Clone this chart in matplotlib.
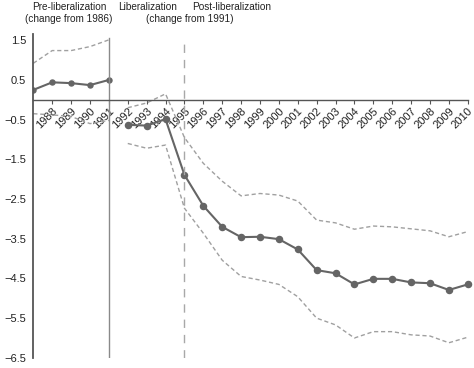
import matplotlib
matplotlib.use("Agg")
import matplotlib.pyplot as plt

plt.rcParams['font.family'] = ['Liberation Sans', 'DejaVu Sans']

years_pre = [1987, 1988, 1989, 1990, 1991]
pre_est = [0.25, 0.44, 0.42, 0.37, 0.50]
pre_upper = [0.92, 1.24, 1.24, 1.34, 1.51]
pre_lower = [-0.35, -0.38, -0.42, -0.60, -0.52]

years_post = list(range(1992, 2011))
post_est = [-0.63, -0.65, -0.49, -1.89, -2.67, -3.20, -3.46, -3.45, -3.51, -3.77,
            -4.29, -4.37, -4.65, -4.51, -4.51, -4.60, -4.62, -4.79, -4.65]
post_upper = [-0.20, -0.08, 0.15, -0.95, -1.60, -2.05, -2.42, -2.36, -2.40, -2.55,
              -3.03, -3.10, -3.26, -3.18, -3.20, -3.25, -3.30, -3.45, -3.32]
post_lower = [-1.10, -1.22, -1.14, -2.73, -3.36, -4.04, -4.45, -4.54, -4.65, -4.96,
              -5.50, -5.67, -6.00, -5.84, -5.84, -5.92, -5.95, -6.12, -5.98]

tick_years = list(range(1988, 2011))
ytick_vals = [1.5, 0.5, -0.5, -1.5, -2.5, -3.5, -4.5, -5.5, -6.5]

W, H = 474, 368
fig = plt.figure(figsize=(W / 100, H / 100), dpi=100)
x0px, xpx_per = 33.3, 18.89
y0px, ypx_per = 99.8, 39.7
xmin, xmax = 1987, 2010.3
ymin, ymax = -6.5, 1.65
left = x0px / W
width = (xmax - xmin) * xpx_per / W
top_px = y0px - ymax * ypx_per
bot_px = y0px - ymin * ypx_per
ax = fig.add_axes([left, 1 - bot_px / H, width, (bot_px - top_px) / H])
ax.set_xlim(xmin, xmax)
ax.set_ylim(ymin, ymax)

band_kw = dict(color='#a0a0a0', lw=1.0, ls=(0, (3, 2)))
main_kw = dict(color='#656565', lw=1.5, marker='o')

ax.plot(years_pre, pre_upper, **band_kw)
ax.plot(years_pre, pre_lower, **band_kw)
ax.plot(years_post, post_upper, **band_kw)
ax.plot(years_post, post_lower, **band_kw)
ax.plot(years_pre, pre_est, markersize=3.6, **main_kw)
ax.plot(years_post, post_est, markersize=4.4, **main_kw)

ax.plot([1991, 1991], [-6.5, 1.55], color='#8a8a8a', lw=1.0)
ax.plot([1995, 1995], [-6.5, 1.46], color='#a8a8a8', lw=1.0, ls=(0, (6, 5)))

for s in ['top', 'right']:
    ax.spines[s].set_visible(False)
ax.spines['left'].set_color('#555555')
ax.spines['left'].set_linewidth(1.3)
ax.spines['bottom'].set_position(('data', 0))
ax.spines['bottom'].set_bounds(1987, 2010)
ax.spines['bottom'].set_color('#555555')
ax.spines['bottom'].set_linewidth(1.0)

ax.set_yticks(ytick_vals)
ax.set_yticklabels([f"{v:.1f}".replace('-', '\u2212') for v in ytick_vals])
ax.tick_params(axis='y', length=0, pad=5, labelsize=8, colors='#222222')

ax.set_xticks(tick_years)
ax.set_xticklabels([str(y) for y in tick_years], rotation=45, ha='right',
                   rotation_mode='anchor')
ax.tick_params(axis='x', length=3, width=0.8, color='#555555', pad=1.5,
               labelsize=8, labelcolor='#222222')

def ftext(xp, yp, s):
    fig.text(xp / W, 1 - yp / H, s, ha='center', va='center', fontsize=7.2,
             color='#222222')

ftext(69, 6.5, "Pre-liberalization")
ftext(69, 19.5, "(change from 1986)")
ftext(148, 6.5, "Liberalization")
ftext(232, 6.5, "Post-liberalization")
ftext(190, 19.5, "(change from 1991)")

fig.savefig("out.png", dpi=100)
